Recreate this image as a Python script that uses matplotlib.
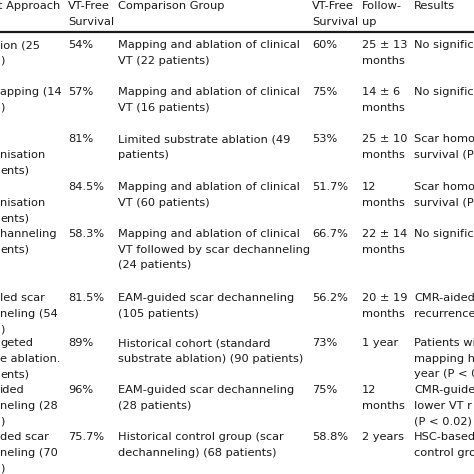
import matplotlib.pyplot as plt

col_x = [0, 68, 118, 312, 362, 414]
headers = [["t Approach"], ["VT-Free", "Survival"], ["Comparison Group"],
           ["VT-Free", "Survival"], ["Follow-", "up"], ["Results"]]
header_x = [-2, 68, 118, 312, 362, 414]

row_top = [44, 91, 138, 186, 233, 297, 342, 389, 436]
approach = [["ion (25", ")"], ["apping (14", ")"], ["", "nisation", "ents)"],
            ["", "nisation", "ents)"], ["hanneling", "ents)"],
            ["led scar", "neling (54", ")"], ["geted", "e ablation.", "ents)"],
            ["ided", "neling (28", ")"], ["ded scar", "neling (70", ")"]]
surv1 = ["54%", "57%", "81%", "84.5%", "58.3%", "81.5%", "89%", "96%", "75.7%"]
comparison = [["Mapping and ablation of clinical", "VT (22 patients)"],
              ["Mapping and ablation of clinical", "VT (16 patients)"],
              ["Limited substrate ablation (49", "patients)"],
              ["Mapping and ablation of clinical", "VT (60 patients)"],
              ["Mapping and ablation of clinical", "VT followed by scar dechanneling", "(24 patients)"],
              ["EAM-guided scar dechanneling", "(105 patients)"],
              ["Historical cohort (standard", "substrate ablation) (90 patients)"],
              ["EAM-guided scar dechanneling", "(28 patients)"],
              ["Historical control group (scar", "dechanneling) (68 patients)"]]
surv2 = ["60%", "75%", "53%", "51.7%", "66.7%", "56.2%", "73%", "75%", "58.8%"]
followup = [["25 \u00b1 13", "months"], ["14 \u00b1 6", "months"], ["25 \u00b1 10", "months"],
            ["12", "months"], ["22 \u00b1 14", "months"], ["20 \u00b1 19", "months"],
            ["1 year"], ["12", "months"], ["2 years"]]
results = [["No significant"], ["No significant"], ["Scar homogenisation", "survival (P"],
           ["Scar homogenisation", "survival (P"], ["No significant"],
           ["CMR-aided", "recurrence"], ["Patients with", "mapping had", "year (P < 0"],
           ["CMR-guided", "lower VT r", "(P < 0.02)"], ["HSC-based", "control group"]]

line_h = 15.6
fig = plt.figure(figsize=(4.74, 4.74), dpi=100)
ax = fig.add_axes([0, 0, 1, 1])
ax.set_xlim(0, 474)
ax.set_ylim(474, 0)
ax.axis("off")
style = dict(fontsize=8.2, family="DejaVu Sans", color="#1a1a1a", va="top", ha="left")

for c, lines in enumerate(headers):
    for k, s in enumerate(lines):
        ax.text(header_x[c], 1 + k * line_h, s, **style)
ax.plot([0, 474], [32, 32], color="#1a1a1a", lw=1.6)

for r, y in enumerate(row_top):
    cells = [approach[r], [surv1[r]], comparison[r], [surv2[r]], followup[r], results[r]]
    for c, lines in enumerate(cells):
        for k, s in enumerate(lines):
            ax.text(col_x[c], y - 4 + k * line_h, s, **style)

fig.savefig("out.png", dpi=100)
